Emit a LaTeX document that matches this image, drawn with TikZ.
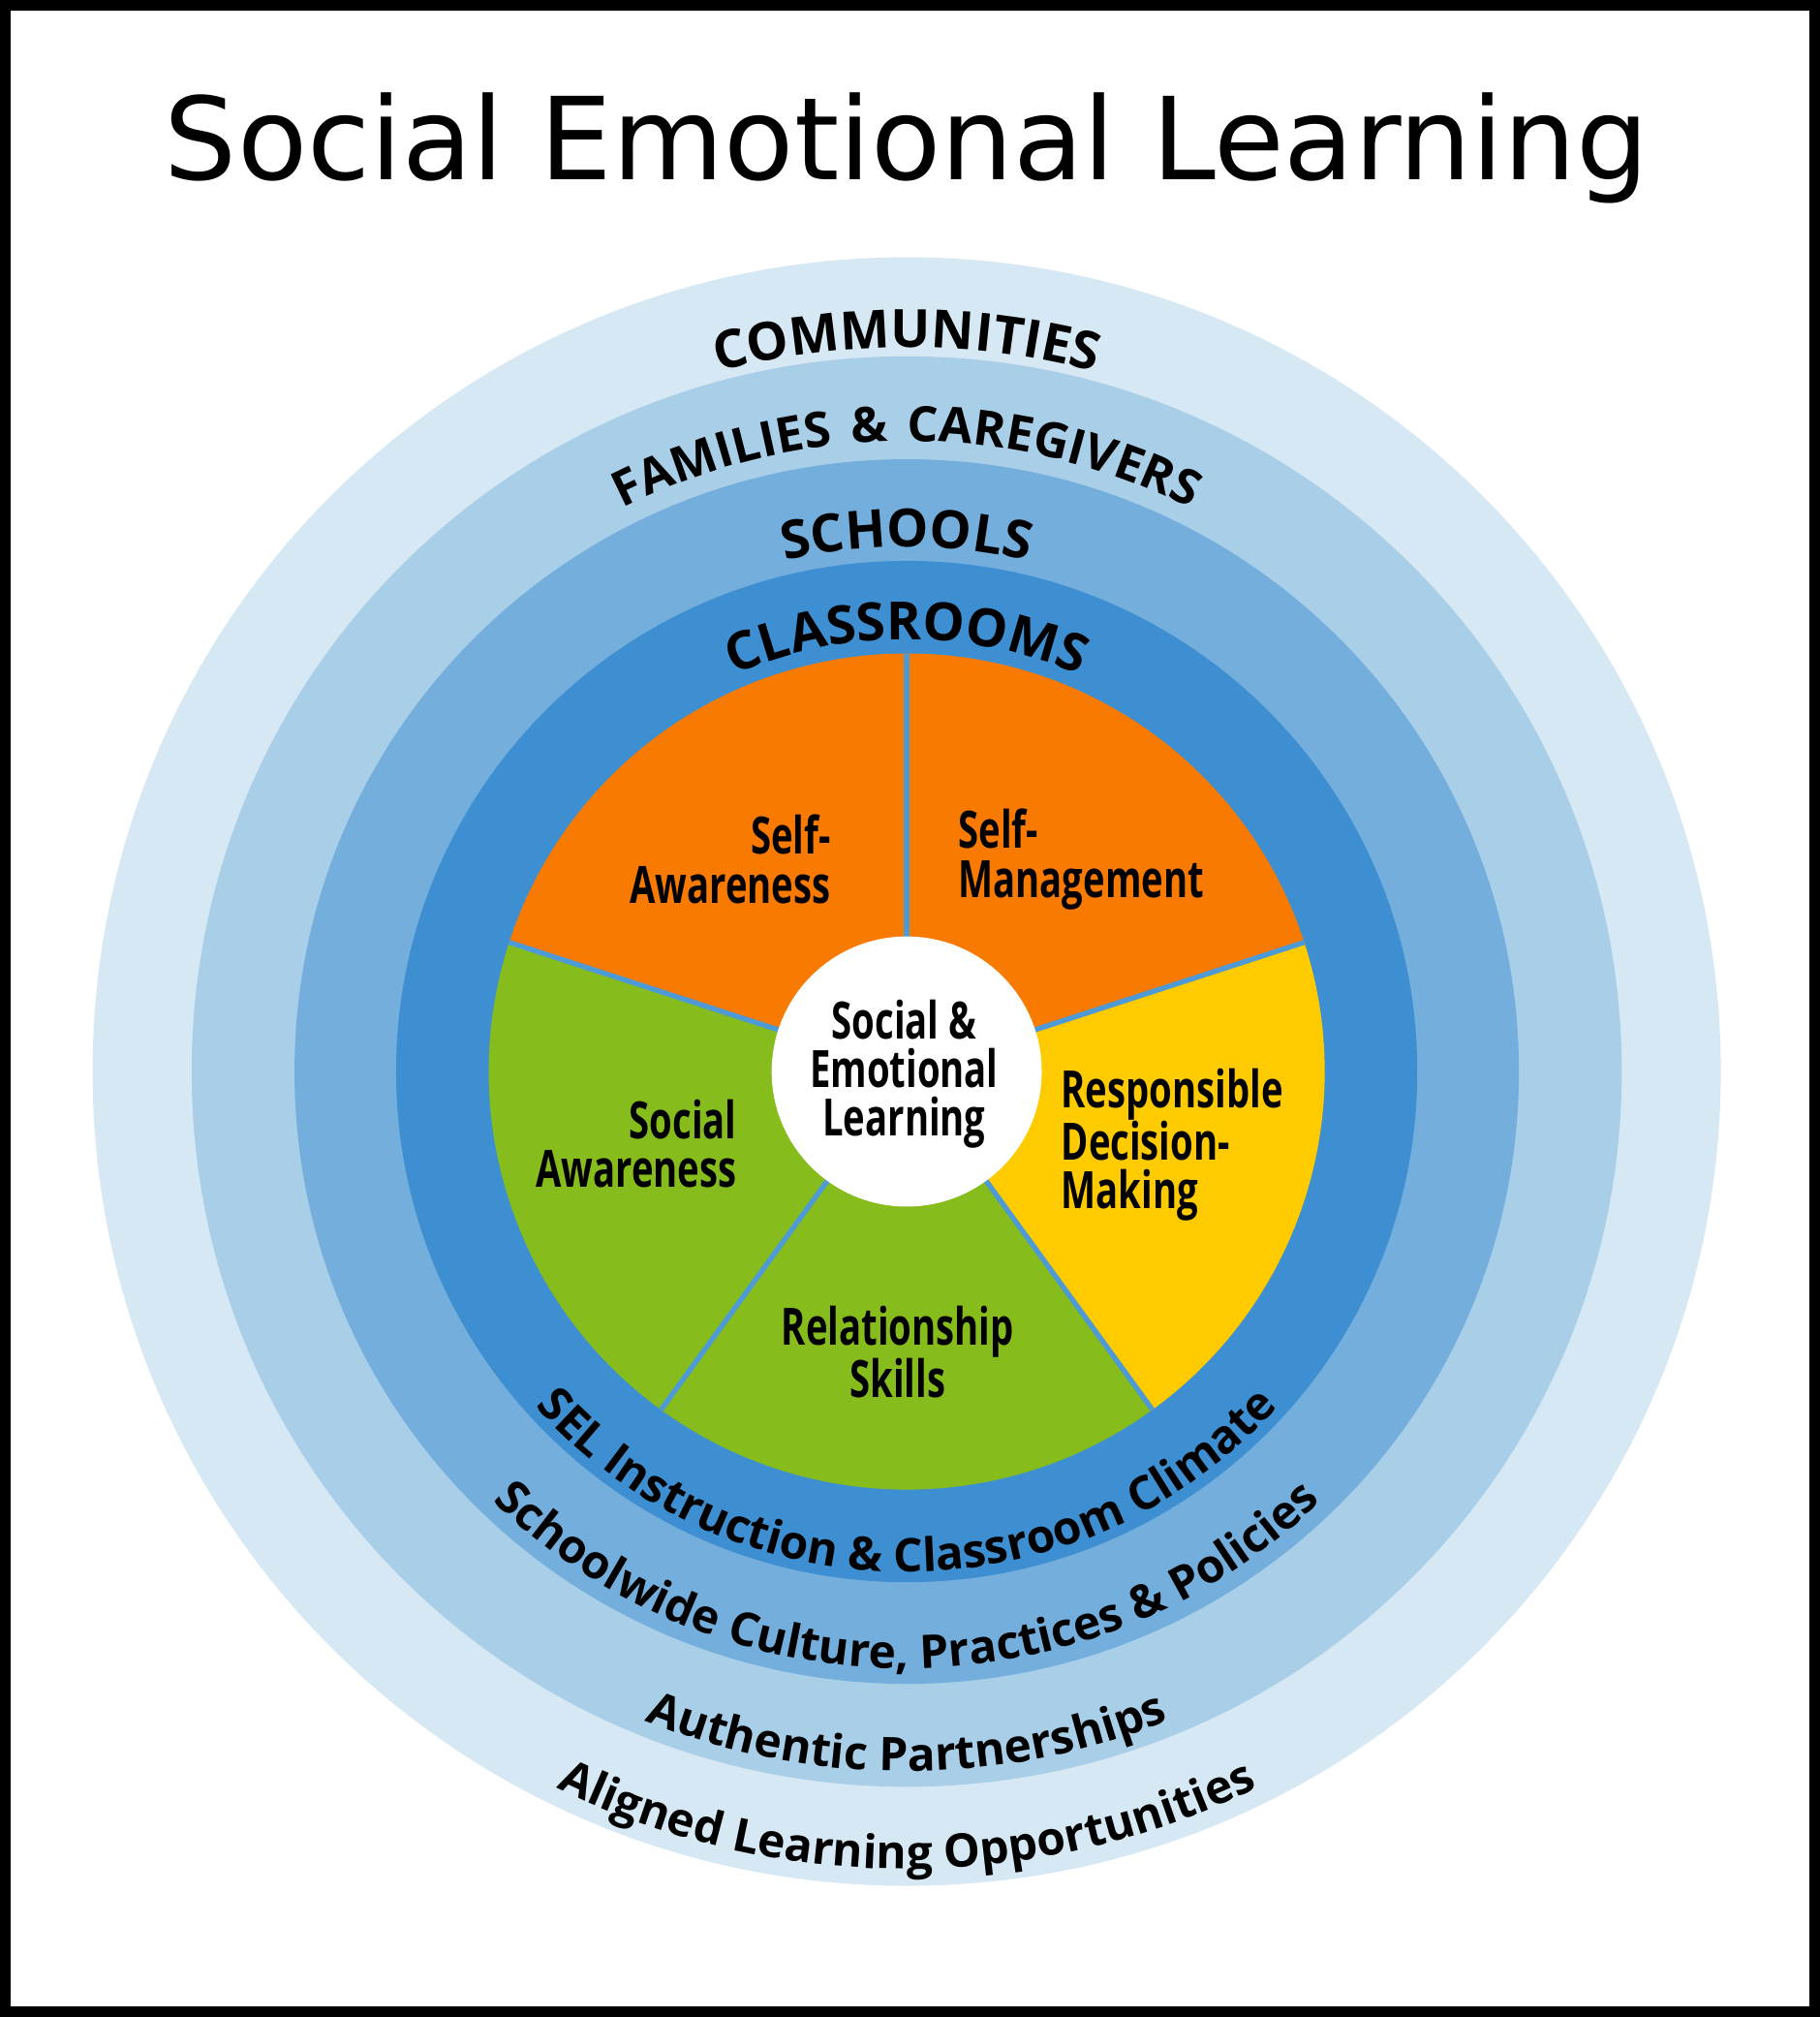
\documentclass[tikz,border=0pt]{standalone}
\usepackage{fontspec}
\usetikzlibrary{decorations.text}
\newfontfamily\titlefont{DejaVu Sans}
\newfontfamily\ringfont{Open Sans}
\newfontfamily\ringsp{Open Sans}[LetterSpace=12]
\newfontfamily\wedgefont{Open Sans}[FakeStretch=0.72]
\definecolor{ringA}{HTML}{D6E8F3}
\definecolor{ringB}{HTML}{A9CEE8}
\definecolor{ringC}{HTML}{74AEDC}
\definecolor{ringD}{HTML}{3D8FD1}
\definecolor{divc}{HTML}{4E9AD6}
\definecolor{orng}{HTML}{F97A00}
\definecolor{yel}{HTML}{FECB00}
\definecolor{grn}{HTML}{86BC1B}
\tikzset{
  wlabel/.style={font=\wedgefont\bfseries\fontsize{40}{38}\selectfont, inner sep=0pt},
  divider/.style={divc, line width=4pt}
}
\newcommand{\toparc}[4]{% radius, size, text, family
  \path[decorate, decoration={text along path, text align=center,
     text={|#4\bfseries\fontsize{#2}{#2}\selectfont|#3}}]
     (180:#1) arc[start angle=180, end angle=0, radius=#1];}
\newcommand{\botarc}[3]{%
  \path[decorate, decoration={text along path, text align=center,
     text={|\ringfont\bfseries\fontsize{#2}{#2}\selectfont|#3}}]
     (180:#1) arc[start angle=180, end angle=360, radius=#1];}
\begin{document}
\begin{tikzpicture}[x=1pt,y=1pt]
\useasboundingbox (-705,-735) rectangle (710,833);
\fill[white] (-705,-735) rectangle (710,833);
\node[font=\titlefont\fontsize{89}{89}\selectfont, inner sep=0pt] (title) at (0,718) {Social Emotional Learning};
\fill[ringA] (0,0) circle (633);
\fill[ringB] (0,0) circle (556);
\fill[ringC] (0,0) circle (476);
\fill[ringD] (0,0) circle (397);
\fill[orng] (0,0) -- (90:325) arc[start angle=90,end angle=162,radius=325] -- cycle;
\fill[orng] (0,0) -- (18:325) arc[start angle=18,end angle=90,radius=325] -- cycle;
\fill[yel] (0,0) -- (-54:325) arc[start angle=-54,end angle=18,radius=325] -- cycle;
\fill[grn] (0,0) -- (234:325) arc[start angle=234,end angle=306,radius=325] -- cycle;
\fill[grn] (0,0) -- (162:325) arc[start angle=162,end angle=234,radius=325] -- cycle;
\foreach \a in {90,18,-54,-126,162} \draw[divider] (0,0) -- (\a:325);
\fill[white] (0,0) circle (105);
\toparc{563}{41}{COMMUNITIES}{\ringfont}
\toparc{490}{38}{FAMILIES {\&} CAREGIVERS}{\ringsp}
\toparc{408}{41}{SCHOOLS}{\ringfont}
\toparc{336}{41}{CLASSROOMS}{\ringfont}
\botarc{389}{36}{SEL Instruction {\&} Classroom Climate}
\botarc{464}{36}{Schoolwide Culture, Practices {\&} Policies}
\botarc{544}{36}{Authentic Partnerships}
\botarc{620}{36}{Aligned Learning Opportunities}
\node[wlabel, anchor=east, align=right] (sa) at (-59,165) {Self-\\Awareness};
\node[wlabel, anchor=west, align=left] (sm) at (40,165) {Self-\\Management};
\node[wlabel, align=center] (sel) at (-2,-2) {Social \&\\Emotional\\Learning};
\node[wlabel, anchor=west, align=left] (rd) at (120,-57) {Responsible\\Decision-\\Making};
\node[wlabel, anchor=east, align=right] (soc) at (-132,-56) {Social\\Awareness};
\node[wlabel, align=center] (rs) at (-7,-218) {Relationship\\Skills};
\draw[black, line width=8pt] (-701,-731) rectangle (706,829);
\end{tikzpicture}
\end{document}
